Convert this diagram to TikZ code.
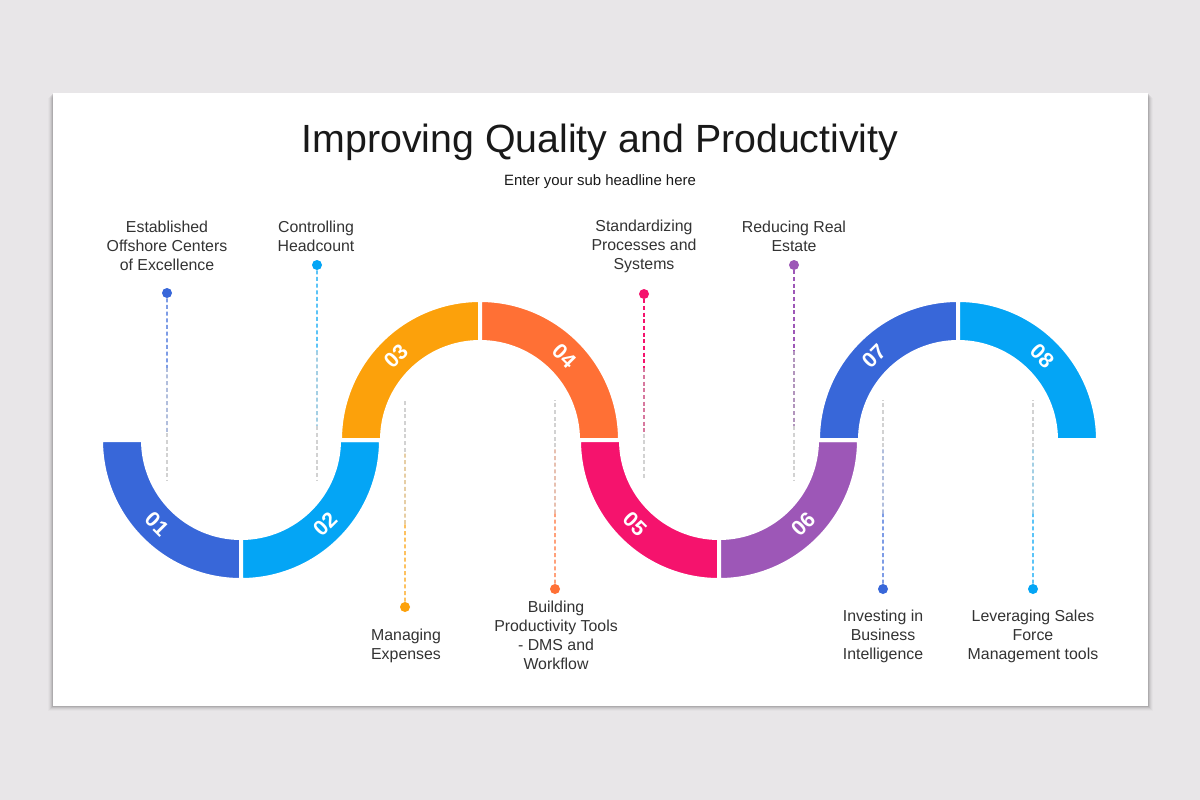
\documentclass[tikz,border=0pt]{standalone}
\usepackage{fontspec}
\setmainfont{Liberation Sans}
\usetikzlibrary{calc}
\definecolor{bgc}{HTML}{E8E6E8}
\definecolor{txt}{HTML}{333333}
\definecolor{cA}{HTML}{3867D9}
\definecolor{cB}{HTML}{04A5F5}
\definecolor{cC}{HTML}{FCA10B}
\definecolor{cD}{HTML}{FF7035}
\definecolor{cE}{HTML}{F5136D}
\definecolor{cF}{HTML}{9D57B7}
\definecolor{cG}{HTML}{3867D9}
\definecolor{cH}{HTML}{04A5F5}
\newcommand{\seg}[6]{% cx cy a1 a2 color name
  \fill[#5,draw=white,line width=3pt] (#1,#2) ++(#3:140) arc[start angle=#3,end angle=#4,radius=140]
   -- ($(#1,#2)+(#4:98)$) arc[start angle=#4,end angle=#3,radius=98] -- cycle;
}
\newcommand{\lead}[5]{% x ydot yend color name
  \node[circle,fill=#4,inner sep=0pt,minimum size=7.5pt] (#5) at (#1,#2) {};
  \coordinate (#5e) at (#1,#3);
  \draw[#4,dash pattern=on 3pt off 2pt,line width=0.8pt] (#5) -- ($(#5)!0.4!(#5e)$);
  \draw[#4!60!gray!70,dash pattern=on 3pt off 2pt,line width=0.8pt] ($(#5)!0.4!(#5e)$) -- ($(#5)!0.75!(#5e)$);
  \draw[gray!35,dash pattern=on 3pt off 2pt,line width=0.8pt] ($(#5)!0.75!(#5e)$) -- (#5e);
}
\begin{document}
\begin{tikzpicture}[x=0.75pt,y=-0.75pt,
  num/.style={text=white,font=\fontsize{16}{16}\selectfont\bfseries,inner sep=0pt},
  lbl/.style={text=txt,align=center,font=\fontsize{11.9}{14.3}\selectfont,inner sep=0pt}]
\fill[bgc] (0,0) rectangle (1200,800);
\useasboundingbox (0,0) rectangle (1200,800);
\foreach \i/\o in {1/0.10,2/0.07,3/0.05,4/0.03,5/0.02}
  \fill[black,opacity=\o] (53-\i,93+\i) rectangle (1148+\i,706+\i);
\fill[white] (53,93) rectangle (1148,706);
\node[text=black!90,font=\fontsize{29.5}{31}\selectfont] (title) at (600,142) {Improving Quality and Productivity};
\node[text=black!90,font=\fontsize{11.2}{12}\selectfont] (sub) at (600,182) {Enter your sub headline here};
\lead{167}{293}{480}{cA}{d1}
\lead{317}{265}{480}{cB}{d2}
\lead{405}{607}{400}{cC}{d3}
\lead{555}{589}{400}{cD}{d4}
\lead{644}{294}{480}{cE}{d5}
\lead{794}{265}{480}{cF}{d6}
\lead{883}{589}{400}{cG}{d7}
\lead{1033}{589}{400}{cH}{d8}
\seg{241}{440}{90}{180}{cA}{s1}
\seg{241}{440}{0}{90}{cB}{s2}
\seg{480}{440}{180}{270}{cC}{s3}
\seg{480}{440}{270}{360}{cD}{s4}
\seg{719}{440}{90}{180}{cE}{s5}
\seg{719}{440}{0}{90}{cF}{s6}
\seg{958}{440}{180}{270}{cG}{s7}
\seg{958}{440}{270}{360}{cH}{s8}
\node[num,rotate=-45] (n1) at ($(241,440)+(135:119)$) {01};
\node[num,rotate=45] (n2) at ($(241,440)+(45:119)$) {02};
\node[num,rotate=45] (n3) at ($(480,440)+(225:119)$) {03};
\node[num,rotate=-45] (n4) at ($(480,440)+(315:119)$) {04};
\node[num,rotate=-45] (n5) at ($(719,440)+(135:119)$) {05};
\node[num,rotate=45] (n6) at ($(719,440)+(45:119)$) {06};
\node[num,rotate=45] (n7) at ($(958,440)+(225:119)$) {07};
\node[num,rotate=-45] (n8) at ($(958,440)+(315:119)$) {08};
\node[lbl] (l1) at (167,246) {Established\\Offshore Centers\\of Excellence};
\node[lbl] (l2) at (316,236.5) {Controlling\\Headcount};
\node[lbl] (l3) at (406,645.5) {Managing\\Expenses};
\node[lbl] (l4) at (556,635.5) {Building\\Productivity Tools\\- DMS and\\Workflow};
\node[lbl] (l5) at (644,246) {Standardizing\\Processes and\\Systems};
\node[lbl] (l6) at (794,236.5) {Reducing Real\\Estate};
\node[lbl] (l7) at (883,636) {Investing in\\Business\\Intelligence};
\node[lbl] (l8) at (1033,636) {Leveraging Sales\\Force\\Management tools};
\end{tikzpicture}
\end{document}
